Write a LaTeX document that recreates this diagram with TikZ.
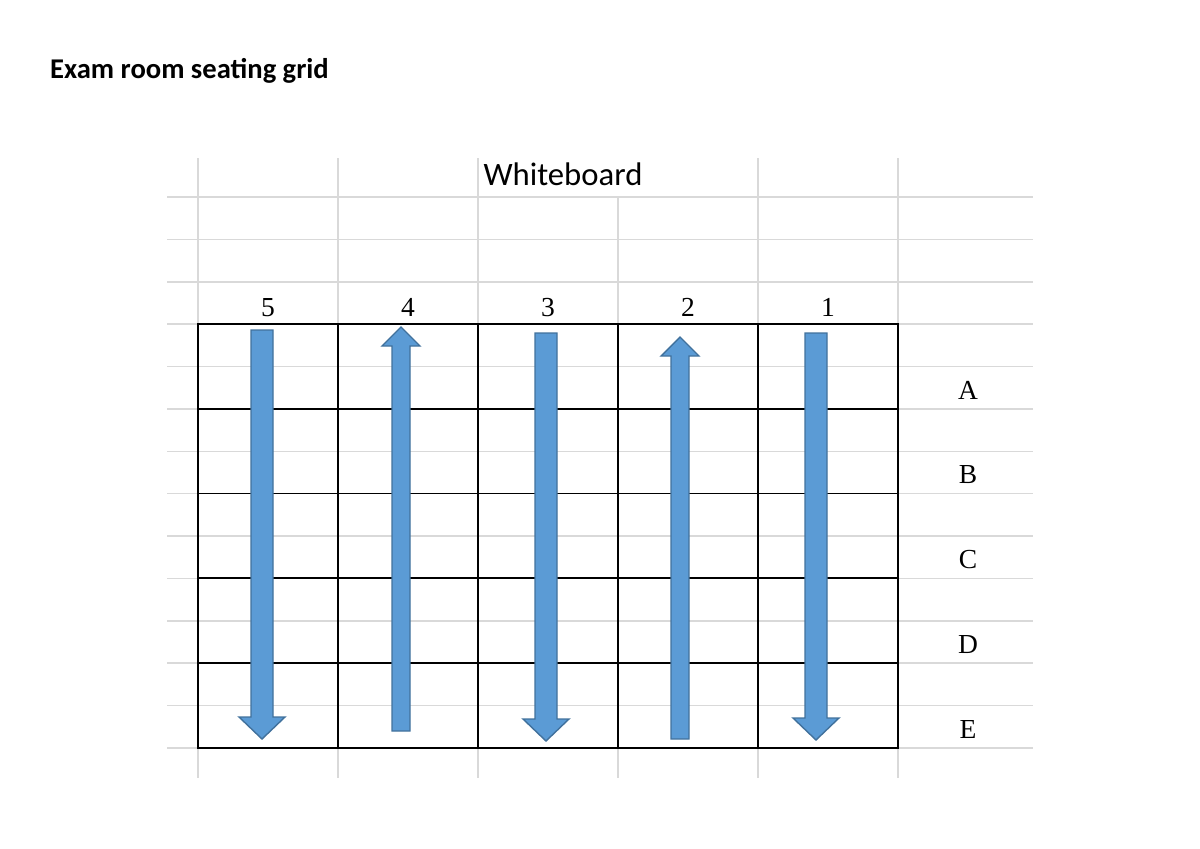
\documentclass[tikz,border=0pt]{standalone}
\usepackage{fontspec}
\setmainfont{Liberation Serif}
\newfontfamily\carlito{Carlito}
\usetikzlibrary{positioning}
\definecolor{seatblue}{HTML}{5B9BD5}
\definecolor{seatedge}{HTML}{41719C}
\definecolor{sheetgray}{HTML}{D9D9D9}

\begin{document}
\begin{tikzpicture}[x=1pt,y=-1pt,
    lightline/.style={sheetgray,line width=1.5pt},
    gridline/.style={black,line width=1.3pt},
    seatarrow/.style={fill=seatblue,draw=seatedge,line width=1.4pt,line join=miter},
    labeltext/.style={font=\fontsize{27.5}{32}\selectfont,anchor=base,inner sep=0pt}]
  \useasboundingbox (0,0) rectangle (1200,849);
  % Title
  \node[font=\carlito\bfseries\fontsize{28.6}{34}\selectfont,anchor=base west,inner sep=0pt] (title) at (50,78) {Exam room seating grid};
  % Sheet gridlines
  \foreach \i in {0,...,13}
    \draw[lightline] (167,{197+42.38*\i}) -- (1033,{197+42.38*\i});
  \foreach \x/\top in {198/158,338/158,478/158,618/197,758/158,898/158}
    \draw[lightline] (\x,\top) -- (\x,778);
  % Seating grid
  \draw[gridline] (198,324) rectangle (898,748);
  \foreach \x in {338,478,618,758}
    \draw[gridline] (\x,324) -- (\x,748);
  \foreach \y in {409,493.5,578,663}
    \draw[gridline] (198,\y) -- (898,\y);
  % Down arrows
  \foreach \c/\t/\b in {262/330/739,546/333/741,816/333/740}
    \draw[seatarrow] ({\c-11},\t) -- ({\c+11},\t) -- ({\c+11},{\b-22}) -- ({\c+23},{\b-22})
      -- (\c,\b) -- ({\c-23},{\b-22}) -- ({\c-11},{\b-22}) -- cycle;
  % Up arrows
  \foreach \c/\t/\b in {401/327/731,680/337/739}
    \draw[seatarrow] ({\c-9},\b) -- ({\c+9},\b) -- ({\c+9},{\t+19}) -- ({\c+19},{\t+19})
      -- (\c,\t) -- ({\c-19},{\t+19}) -- ({\c-9},{\t+19}) -- cycle;
  % Labels
  \node[font=\carlito\fontsize{32.7}{38}\selectfont,anchor=base,inner sep=0pt] (board) at (563,185) {Whiteboard};
  \foreach \n [count=\k from 0] in {5,4,3,2,1}
    \node[labeltext] (col\n) at ({268+140*\k},316) {\n};
  \foreach \r [count=\k from 0] in {A,...,E}
    \node[labeltext] (row\r) at (968,{399+84.75*\k}) {\r};
\end{tikzpicture}
\end{document}
